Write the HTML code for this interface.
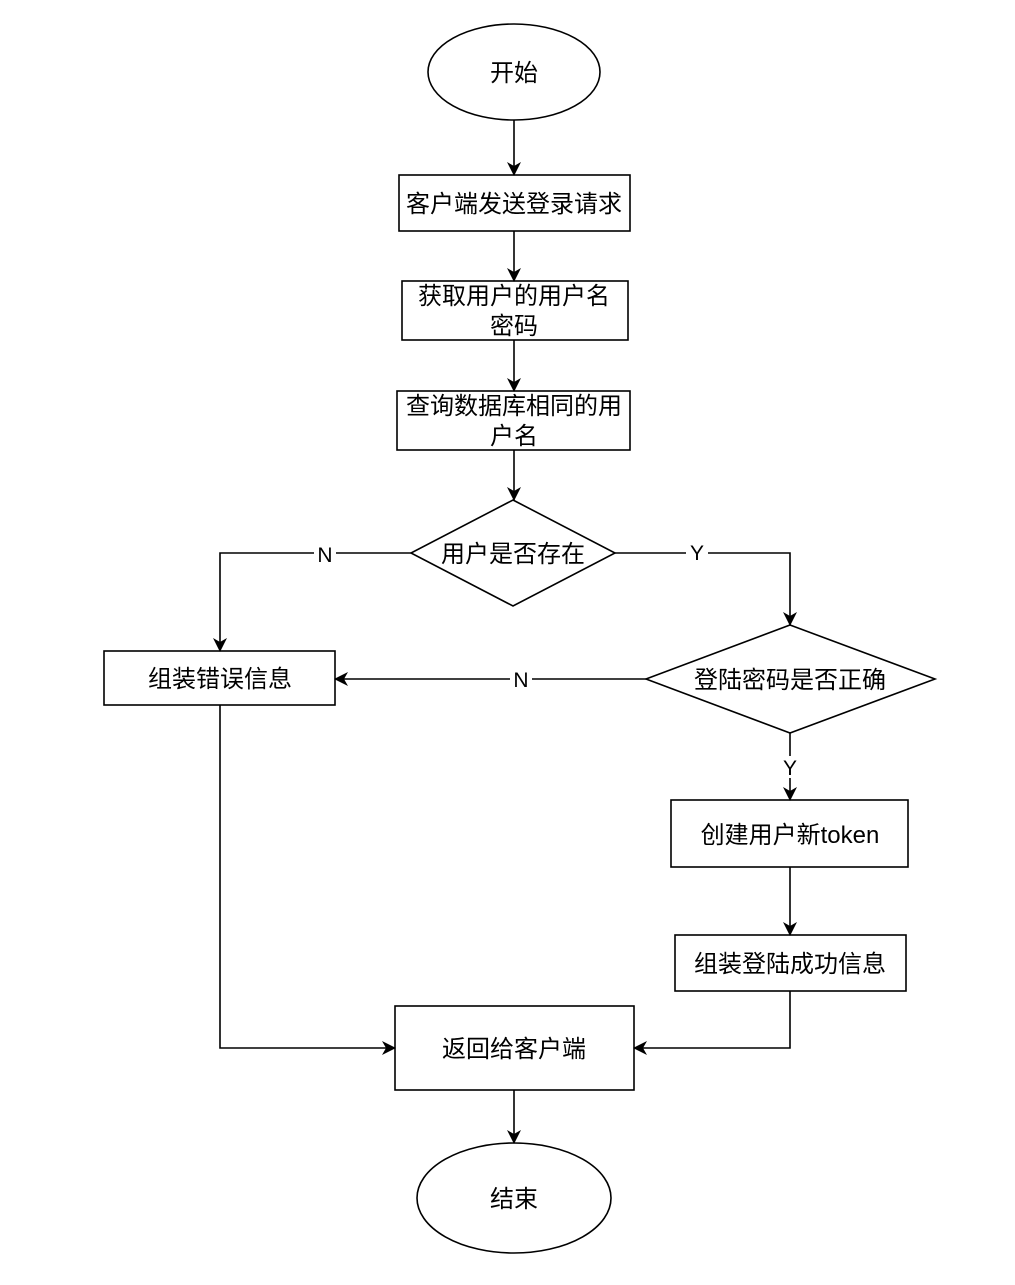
<!DOCTYPE html>
<html><head><meta charset="utf-8"><style>
html,body{margin:0;padding:0;background:#fff;}
svg text{font-family:"Liberation Sans","Noto Sans CJK SC",sans-serif;font-size:24px;fill:#000;}
</style></head><body>
<svg width="1015" height="1280" viewBox="0 0 1015 1280" xmlns="http://www.w3.org/2000/svg">
<defs>
<marker id="b" viewBox="0 0 14 14" markerWidth="14" markerHeight="14" refX="13" refY="7" orient="auto" markerUnits="userSpaceOnUse"><path d="M0,0 L14,7 L0,14 L4,7 Z" fill="#000"/></marker></defs>
<g fill="#fff" stroke="#000" stroke-width="1.6">
<ellipse cx="514" cy="72" rx="86" ry="48"/>
<rect x="399" y="175" width="231" height="56"/>
<rect x="402" y="281" width="226" height="59"/>
<rect x="397" y="391" width="233" height="59"/>
<polygon points="513,500 615,553 513,606 411,553"/>
<polygon points="790,625 935,679 790,733 646,679"/>
<rect x="104" y="651" width="231" height="54"/>
<rect x="671" y="800" width="237" height="67"/>
<rect x="675" y="935" width="231" height="56"/>
<rect x="395" y="1006" width="239" height="84"/>
<ellipse cx="514" cy="1198" rx="97" ry="55"/>
</g>
<g fill="none" stroke="#000" stroke-width="1.6" marker-end="url(#b)">
<path d="M514,120 V175"/>
<path d="M514,231 V281"/>
<path d="M514,340 V391"/>
<path d="M514,450 V500"/>
<path d="M411,553 H220 V651"/>
<path d="M615,553 H790 V625"/>
<path d="M646,679 H335"/>
<path d="M790,733 V800"/>
<path d="M790,867 V935"/>
<path d="M790,991 V1048 H634"/>
<path d="M220,705 V1048 H395"/>
<path d="M514,1090 V1143"/>
</g>
<g text-anchor="middle">
<text x="514" y="81">开始</text>
<text x="514" y="212">客户端发送登录请求</text>
<text x="514" y="304">获取用户的用户名</text>
<text x="514" y="334">密码</text>
<text x="514" y="414">查询数据库相同的用</text>
<text x="514" y="444">户名</text>
<text x="513" y="562">用户是否存在</text>
<text x="790" y="688">登陆密码是否正确</text>
<text x="220" y="687">组装错误信息</text>
<text x="790" y="843">创建用户新token</text>
<text x="790" y="972">组装登陆成功信息</text>
<text x="514" y="1057">返回给客户端</text>
<text x="514" y="1207">结束</text>
</g>
<g text-anchor="middle">
<rect x="314" y="543" width="22" height="22" fill="#fff"/>
<text x="325" y="562" style="font-size:21px">N</text>
<rect x="686" y="541" width="22" height="22" fill="#fff"/>
<text x="697" y="560" style="font-size:21px">Y</text>
<rect x="510" y="668" width="22" height="22" fill="#fff"/>
<text x="521" y="687" style="font-size:21px">N</text>
<rect x="779" y="756" width="22" height="22" fill="#fff"/>
<text x="790" y="775" style="font-size:21px">Y</text>
</g>
</svg>
</body></html>
